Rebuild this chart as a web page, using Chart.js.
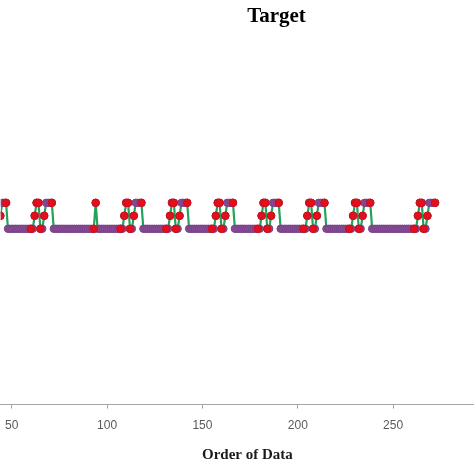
<!DOCTYPE html>
<html>
<head>
<meta charset="utf-8">
<script src="https://cdn.jsdelivr.net/npm/chart.js@4"></script>
<style>
  html, body { margin: 0; padding: 0; background: #ffffff; overflow: hidden; }
  #wrap { position: relative; width: 474px; height: 474px; overflow: hidden; }
  #c { position: absolute; left: -5px; top: 0; }
</style>
</head>
<body>
<div id="wrap"><canvas id="c" width="563" height="474"></canvas></div>
<script>
// ---- Data ----
const chartTitle = "Target";
const xAxisTitle = "Order of Data";
const xTickValues = [50, 100, 150, 200, 250];
const firstOrder = 44; // order number of the first visible point
const targetValues = [
  2,3,3,3,
  1,1,1,1,1,1,1,1,1,1,1,1,
  1,1,2,3,3,1,1,2,3,3,3,3,
  1,1,1,1,1,1,1,1,1,1,1,1,1,1,1,1,1,1,1,1,1,
  1,3,1,
  1,1,1,1,1,1,1,1,1,1,1,
  1,1,2,3,3,1,1,2,3,3,3,3,
  1,1,1,1,1,1,1,1,1,1,1,1,
  1,1,2,3,3,1,1,2,3,3,3,3,
  1,1,1,1,1,1,1,1,1,1,1,1,
  1,1,2,3,3,1,1,2,3,3,3,3,
  1,1,1,1,1,1,1,1,1,1,1,1,
  1,1,2,3,3,1,1,2,3,3,3,3,
  1,1,1,1,1,1,1,1,1,1,1,1,
  1,1,2,3,3,1,1,2,3,3,3,3,
  1,1,1,1,1,1,1,1,1,1,1,1,
  1,1,2,3,3,1,1,2,3,3,3,3,
  1,1,1,1,1,1,1,1,1,1,1,1,1,1,1,1,1,1,1,1,1,1,
  1,1,2,3,3,1,1,2,3,3,3,3
];
// orders whose markers are drawn in red
const highlightedOrders = [
  44, 47,
  60, 62, 63, 64, 65, 67, 71,
  93, 94,
  107, 109, 110, 111, 112, 114, 118,
  131, 133, 134, 135, 136, 138, 142,
  155, 157, 158, 159, 160, 162, 166,
  179, 181, 182, 183, 184, 186, 190,
  203, 205, 206, 207, 208, 210, 214,
  227, 229, 230, 231, 232, 234, 238,
  261, 263, 264, 265, 266, 268, 272
];

// ---- Build library tables ----
const mainPoints = targetValues.map((v, i) => ({ x: firstOrder + i, y: v }));
const redPoints = highlightedOrders.map(o => ({ x: o, y: targetValues[o - firstOrder] }));

new Chart(document.getElementById('c'), {
  type: 'line',
  data: {
    datasets: [
      {
        label: 'Highlighted',
        data: redPoints,
        showLine: false,
        pointRadius: 3.8,
        pointBackgroundColor: '#e3101c',
        pointBorderColor: '#c90f1a',
        pointBorderWidth: 1,
        order: 0
      },
      {
        label: 'Target',
        data: mainPoints,
        borderColor: '#23a25c',
        borderWidth: 2.2,
        pointRadius: 3.7,
        pointBackgroundColor: '#8a4f98',
        pointBorderColor: '#7a4289',
        pointBorderWidth: 1,
        tension: 0,
        order: 1
      }
    ]
  },
  options: {
    responsive: false,
    animation: false,
    devicePixelRatio: 1,
    layout: { padding: 0 },
    plugins: {
      legend: { display: false },
      tooltip: { enabled: false },
      title: {
        display: true,
        text: chartTitle,
        color: '#000000',
        font: { family: "'Liberation Serif', 'Times New Roman', serif", size: 21, weight: 'bold' },
        padding: { top: 4, bottom: 10 }
      }
    },
    scales: {
      x: {
        type: 'linear',
        min: 44.24,
        max: 302.9,
        afterBuildTicks: (scale) => { scale.ticks = xTickValues.map(v => ({ value: v })); },
        grid: { drawOnChartArea: false, drawTicks: true, tickLength: 4, color: '#a6a6a6' },
        border: { display: true, color: '#a6a6a6', width: 1 },
        ticks: {
          color: '#595959',
          padding: 10,
          maxRotation: 0,
          font: { family: "'Liberation Sans', Arial, sans-serif", size: 12 }
        },
        title: {
          display: true,
          text: xAxisTitle,
          color: '#1a1a1a',
          font: { family: "'Liberation Serif', 'Times New Roman', serif", size: 15, weight: 'bold' },
          padding: { top: 3, bottom: 10 }
        }
      },
      y: {
        type: 'linear',
        position: 'right',
        min: -12.54,
        max: 15.6,
        grid: { display: false },
        border: { display: false },
        ticks: { display: false },
        afterFit: (scale) => { scale.width = 64; }
      }
    }
  }
});
</script>
</body>
</html>
